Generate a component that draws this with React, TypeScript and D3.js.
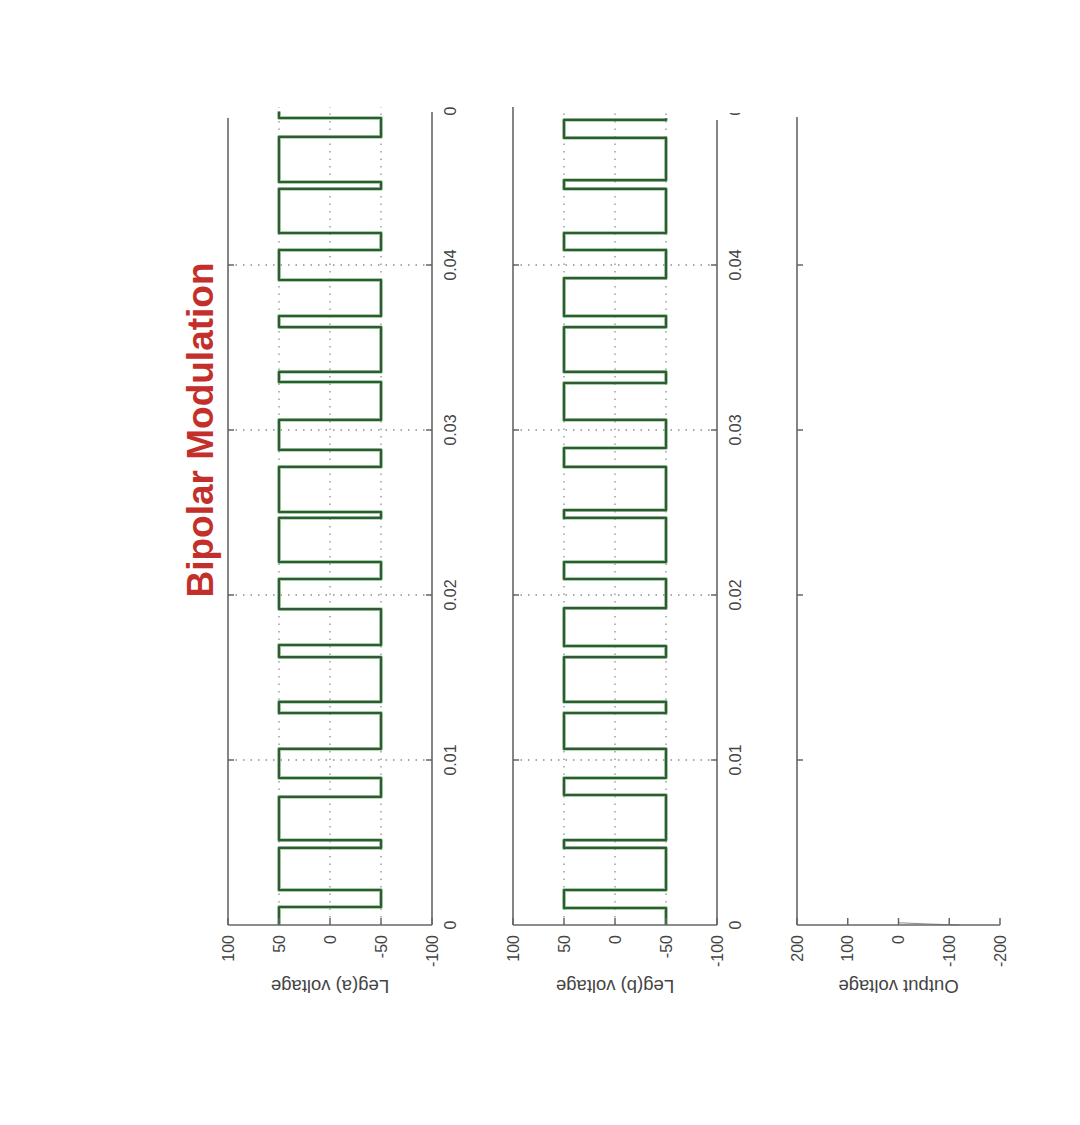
import { useEffect, useRef } from 'react';
import * as d3 from 'd3';

// time axis (s) and voltage axes
const timeTicks = [0, 0.01, 0.02, 0.03, 0.04, 0.05];
const timeTickLabels = ['0', '0.01', '0.02', '0.03', '0.04', '0.05'];
const legTicks = [100, 50, 0, -50, -100];
const legGrid = [50, 0, -50];
const outTicks = [200, 100, 0, -100, -200];

// switching instants (s)
const legASwitch = [
  0.00109, 0.00212, 0.00467, 0.00515, 0.00776, 0.00891, 0.01067, 0.01285, 0.01352, 0.01624,
  0.01697, 0.01915, 0.02097, 0.022, 0.02467, 0.02503, 0.02776, 0.02879, 0.03061, 0.03291,
  0.03352, 0.03624, 0.03691, 0.03909, 0.04091, 0.04194, 0.04461, 0.04503, 0.04776, 0.04891,
];
const legAStart = 50;
const legAEnd = 0.0493;

const legBSwitch = [
  0.00103, 0.00212, 0.00467, 0.00515, 0.00788, 0.00891, 0.01067, 0.01285, 0.01352, 0.01624,
  0.01691, 0.01921, 0.02097, 0.022, 0.02467, 0.02515, 0.02776, 0.02891, 0.03061, 0.03285,
  0.03352, 0.03624, 0.03691, 0.03921, 0.04091, 0.04194, 0.04461, 0.04515, 0.0477, 0.04879,
];
const legBStart = -50;
const legBEnd = 0.0489;

// what is left of the output trace
const outT = [0.00014, 0.00006, 0.0];
const outV = [0, -60, -120];

const W = 1080;
const H = 1125;
const FONT = '"Liberation Sans", Arial, sans-serif';

function stepPoints(switches: number[], start: number, end: number) {
  const bounds = [0, ...switches, end];
  const pts: Array<[number, number]> = [];
  for (let i = 0; i < bounds.length - 1; i++) {
    const level = i % 2 === 0 ? start : -start;
    pts.push([level, bounds[i]], [level, bounds[i + 1]]);
  }
  return pts;
}

export default function App() {
  const svgRef = useRef<SVGSVGElement>(null);

  useEffect(() => {
    const svg = d3.select(svgRef.current);
    svg.selectAll('*').remove();

    svg.append('rect').attr('width', W).attr('height', H).attr('fill', '#fff');

    const y = d3.scaleLinear().domain([0, 0.05]).range([925, 100]);

    const panels = [
      { id: 'a', x0: 228, x1: 432, domain: [100, -100], ticks: legTicks, grid: legGrid, label: 'Leg(a) voltage',
        leftTop: 118, rightTop: 112, clipTop: 107, pts: stepPoints(legASwitch, legAStart, legAEnd), timeLabels: true },
      { id: 'b', x0: 513, x1: 717, domain: [100, -100], ticks: legTicks, grid: legGrid, label: 'Leg(b) voltage',
        leftTop: 107, rightTop: 120, clipTop: 113, pts: stepPoints(legBSwitch, legBStart, legBEnd), timeLabels: true },
      { id: 'c', x0: 797, x1: 1000, domain: [200, -200], ticks: outTicks, grid: [] as number[], label: 'Output voltage',
        leftTop: 117, rightTop: null as number | null, clipTop: 113,
        pts: outT.map((t, i) => [outV[i], t] as [number, number]), timeLabels: false },
    ];

    const defs = svg.append('defs');

    panels.forEach(p => {
      const x = d3.scaleLinear().domain(p.domain).range([p.x0, p.x1]);

      defs.append('clipPath').attr('id', `clip-${p.id}`)
        .append('rect').attr('x', 0).attr('y', p.clipTop).attr('width', W).attr('height', H);

      const g = svg.append('g').attr('clip-path', `url(#clip-${p.id})`);

      // dotted grid
      g.selectAll('.vgrid').data(p.grid).enter().append('line')
        .attr('x1', d => x(d)).attr('x2', d => x(d))
        .attr('y1', y(0)).attr('y2', y(0.05))
        .attr('stroke', '#8f8f8f').attr('stroke-width', 1.3).attr('stroke-dasharray', '1.5,6');
      if (p.grid.length) {
        g.selectAll('.hgrid').data(timeTicks.slice(1, 5)).enter().append('line')
          .attr('x1', p.x0).attr('x2', p.x1)
          .attr('y1', d => y(d)).attr('y2', d => y(d))
          .attr('stroke', '#8f8f8f').attr('stroke-width', 1.3).attr('stroke-dasharray', '1.5,6');
      }

      // trace
      const line = d3.line<[number, number]>().x(d => x(d[0])).y(d => y(d[1]));
      if (p.id === 'c') {
        g.append('path').attr('d', line(p.pts)).attr('fill', 'none')
          .attr('stroke', '#8a8a8a').attr('stroke-width', 1.1);
      } else {
        g.append('path').attr('d', line(p.pts)).attr('fill', 'none')
          .attr('stroke', '#4caf50').attr('stroke-width', 3.8).attr('stroke-opacity', 0.55)
          .attr('stroke-linejoin', 'round');
        g.append('path').attr('d', line(p.pts)).attr('fill', 'none')
          .attr('stroke', '#34573a').attr('stroke-width', 2.2).attr('stroke-linejoin', 'round');
      }

      // box
      const axisStroke = '#666';
      svg.append('line').attr('x1', p.x0).attr('x2', p.x0).attr('y1', p.leftTop).attr('y2', y(0))
        .attr('stroke', axisStroke).attr('stroke-width', 1.6);
      if (p.rightTop !== null) {
        svg.append('line').attr('x1', p.x1).attr('x2', p.x1).attr('y1', p.rightTop).attr('y2', y(0))
          .attr('stroke', axisStroke).attr('stroke-width', 1.6);
      }
      svg.append('line').attr('x1', p.x0).attr('x2', p.x1).attr('y1', y(0)).attr('y2', y(0))
        .attr('stroke', axisStroke).attr('stroke-width', 1.6);

      // voltage ticks
      svg.selectAll(`.vt-${p.id}`).data(p.ticks).enter().append('line')
        .attr('x1', d => x(d)).attr('x2', d => x(d))
        .attr('y1', y(0)).attr('y2', y(0) - 7)
        .attr('stroke', axisStroke).attr('stroke-width', 1.5);

      // time ticks on both sides
      const tt = timeTicks.slice(1, 5);
      svg.selectAll(`.tl-${p.id}`).data(tt).enter().append('line')
        .attr('x1', p.x0).attr('x2', p.x0 + 6)
        .attr('y1', d => y(d)).attr('y2', d => y(d))
        .attr('stroke', axisStroke).attr('stroke-width', 1.5);
      if (p.rightTop !== null) {
        svg.selectAll(`.tr-${p.id}`).data(tt).enter().append('line')
          .attr('x1', p.x1).attr('x2', p.x1 - 6)
          .attr('y1', d => y(d)).attr('y2', d => y(d))
          .attr('stroke', axisStroke).attr('stroke-width', 1.5);
      }

      // voltage tick labels (rotated)
      svg.selectAll(`.vl-${p.id}`).data(p.ticks).enter().append('text')
        .attr('transform', d => `translate(${x(d)},${y(0) + 10}) rotate(-90)`)
        .attr('text-anchor', 'end')
        .attr('dominant-baseline', 'central')
        .style('font-family', FONT).style('font-size', '16px').style('fill', '#444')
        .text(d => String(d));

      // time tick labels
      if (p.timeLabels) {
        g.selectAll('.tlab').data(timeTicks).enter().append('text')
          .attr('transform', d => `translate(${p.x1 + 18},${y(d)}) rotate(-90)`)
          .attr('text-anchor', 'middle')
          .attr('dominant-baseline', 'central')
          .style('font-family', FONT).style('font-size', '16px').style('fill', '#444')
          .text((d, i) => timeTickLabels[i]);
      }

      // axis label, upside down
      const cx = (p.x0 + p.x1) / 2;
      svg.append('text')
        .attr('transform', `translate(${cx},980) rotate(180)`)
        .attr('text-anchor', 'middle')
        .style('font-family', FONT).style('font-size', '18.5px').style('fill', '#444')
        .text(p.label);
    });

    // title
    svg.append('text')
      .attr('transform', 'translate(213,430) rotate(-90)')
      .attr('text-anchor', 'middle')
      .style('font-family', FONT).style('font-size', '37px').style('font-weight', 'bold')
      .style('fill', '#c3302c')
      .text('Bipolar Modulation');
  }, []);

  return (
    <svg
      ref={svgRef}
      width={W}
      height={H}
      style={{ position: 'absolute', left: 0, top: 0, display: 'block' }}
    />
  );
}
